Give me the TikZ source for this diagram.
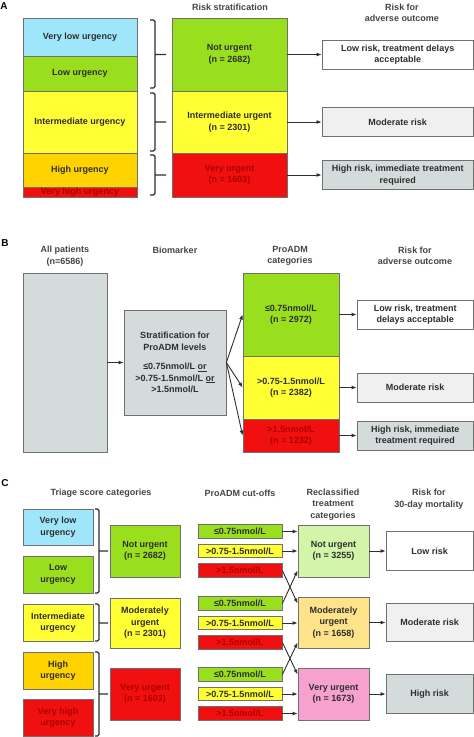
\documentclass[tikz,border=0pt]{standalone}
\usepackage{fontspec}
\setmainfont{Liberation Sans}
\usepackage{tikz}
\usetikzlibrary{arrows.meta}
\definecolor{cblue}{HTML}{9FE6FA}
\definecolor{cgreen}{HTML}{9ADF1E}
\definecolor{cyellow}{HTML}{FFFF33}
\definecolor{camber}{HTML}{FFD300}
\definecolor{cred}{HTML}{F01010}
\definecolor{redtext}{HTML}{B00000}
\definecolor{clgreen}{HTML}{D2F5AA}
\definecolor{clorange}{HTML}{FFE38A}
\definecolor{cpink}{HTML}{F7A1CF}
\definecolor{lgray}{HTML}{F0F0F0}
\definecolor{mgray}{HTML}{D3DBDB}
\definecolor{edgegray}{HTML}{707070}
\definecolor{boxtext}{HTML}{2E2E2E}
\definecolor{headgray}{HTML}{444444}
\definecolor{linegray}{HTML}{2E2E2E}

\begin{document}
\begin{tikzpicture}[x=1pt,y=-1pt,
  font=\fontsize{9}{11.5}\selectfont\bfseries,
  box/.style={draw=edgegray,line width=0.8pt,text=boxtext,align=center,inner sep=1pt},
  head/.style={text=headgray,align=center},
  panel/.style={font=\fontsize{10}{11}\selectfont\bfseries,text=black},
  acol/.style={box,minimum width=114pt},
  amid/.style={box,minimum width=115pt},
  arisk/.style={box,minimum width=151.5pt,minimum height=29pt},
  brisk/.style={box,minimum width=116.5pt,minimum height=29pt},
  bcat/.style={box,minimum width=96pt},
  ccol/.style={box,minimum width=70pt},
  cut/.style={box,minimum width=84pt,minimum height=13.5pt,inner ysep=0pt},
  recl/.style={box,minimum width=71pt},
  crisk/.style={box,minimum width=87.5pt,minimum height=38.5pt},
  arr/.style={-{Latex[length=5pt,width=4pt]},draw=linegray,line width=0.9pt},
  brk/.style={draw=linegray,line width=1.1pt,rounded corners=1.5pt}
]
\useasboundingbox (0,0) rectangle (474,737);

\node[panel] (la) at (4,6) {A};
\node[head] (ha1) at (230,7) {Risk stratification};
\node[head] (ha2) at (402,13) {Risk for\\adverse outcome};

\node[acol,fill=cblue,minimum height=38pt] (avl) at (80,37) {Very low urgency};
\node[acol,fill=cgreen,minimum height=35pt] (alo) at (80,73.5) {Low urgency};
\node[acol,fill=cyellow,minimum height=62pt] (aint) at (80,122) {Intermediate urgency};
\node[acol,fill=camber,minimum height=34pt] (ahi) at (80,170) {High urgency};
\node[acol,fill=cred,text=redtext,minimum height=10pt,inner ysep=0pt,text height=6.5pt,text depth=1.5pt] (avh) at (80,192) {Very high urgency};

\node[amid,fill=cgreen,minimum height=73pt] (anu) at (229.5,54.5) {Not urgent\\(n = 2682)};
\node[amid,fill=cyellow,minimum height=62pt] (aiu) at (229.5,122) {Intermediate urgent\\(n = 2301)};
\node[amid,fill=cred,text=redtext,minimum height=44pt] (avu) at (229.5,175) {Very urgent\\(n = 1603)};

\node[arisk,fill=white] (ar1) at (397.75,54.5) {Low risk, treatment delays\\acceptable};
\node[arisk,fill=lgray] (ar2) at (397.75,122) {Moderate risk};
\node[arisk,fill=mgray] (ar3) at (397.75,175) {High risk, immediate treatment\\required};

\draw[brk] (150,20) -- (155,20) -- (155,88) -- (150,88) (155,54.5) -- (166,54.5);
\draw[brk] (150,93) -- (155,93) -- (155,151) -- (150,151) (155,122) -- (166,122);
\draw[brk] (150,155) -- (155,155) -- (155,195) -- (150,195) (155,175) -- (166,175);

\draw[arr] (anu.east) -- (ar1.west);
\draw[arr] (aiu.east) -- (ar2.west);
\draw[arr] (avu.east) -- (ar3.west);

\node[panel] (lb) at (5,243) {B};
\node[head] (hb1) at (65,256) {All patients\\(n=6586)};
\node[head] (hb2) at (175,250) {Biomarker};
\node[head] (hb3) at (290,256) {ProADM\\categories};
\node[head] (hb4) at (415,256) {Risk for\\adverse outcome};

\node[box,fill=mgray,minimum width=84pt,minimum height=179pt] (ball) at (65,362.5) {};
\node[box,fill=mgray,minimum width=102pt,minimum height=105pt] (bstr) at (175,362.5)
  {Stratification for\\ProADM levels\\[8pt]≤0.75nmol/L \underline{or}\\>0.75-1.5nmol/L \underline{or}\\>1.5nmol/L};

\node[bcat,fill=cgreen,minimum height=83pt] (bc1) at (291,314.5) {≤0.75nmol/L\\(n = 2972)};
\node[bcat,fill=cyellow,minimum height=63pt] (bc2) at (291,387.5) {>0.75-1.5nmol/L\\(n = 2382)};
\node[bcat,fill=cred,text=redtext,minimum height=33pt] (bc3) at (291,435.5) {>1.5nmol/L\\(n = 1232)};

\node[brisk,fill=white] (br1) at (415.25,314.5) {Low risk, treatment\\delays acceptable};
\node[brisk,fill=lgray] (br2) at (415.25,387.5) {Moderate risk};
\node[brisk,fill=mgray] (br3) at (415.25,435.5) {High risk, immediate\\treatment required};

\draw[arr] (ball.east) -- (bstr.west);
\draw[arr] (bstr.east) -- (bc1.west);
\draw[arr] (bstr.east) -- (bc2.west);
\draw[arr] (bstr.east) -- (bc3.west);
\draw[arr] (bc1.east) -- (br1.west);
\draw[arr] (bc2.east) -- (br2.west);
\draw[arr] (bc3.east) -- (br3.west);

\node[panel] (lc) at (5,483) {C};
\node[head] (hc1) at (101,493) {Triage score categories};
\node[head] (hc2) at (240,493) {ProADM cut-offs};
\node[head] (hc3) at (333,504.5) {Reclassified\\treatment\\categories};
\node[head] (hc4) at (429,499) {Risk for\\30-day mortality};

\node[ccol,fill=cblue,minimum height=36pt] (cvl) at (58,527) {Very low\\urgency};
\node[ccol,fill=cgreen,minimum height=37pt] (clo) at (58,574.5) {Low\\urgency};
\node[ccol,fill=cyellow,minimum height=37pt] (cint) at (58,622.5) {Intermediate\\urgency};
\node[ccol,fill=camber,minimum height=37pt] (chi) at (58,670.5) {High\\urgency};
\node[ccol,fill=cred,text=redtext,minimum height=37pt] (cvh) at (58,717.5) {Very high\\urgency};

\draw[brk] (95,509) -- (99,509) -- (99,593) -- (95,593) (99,551) -- (108,551);
\draw[brk] (95,604) -- (99,604) -- (99,641) -- (95,641) (99,623) -- (108,623);
\draw[brk] (95,652) -- (99,652) -- (99,736) -- (95,736) (99,694) -- (108,694);

\node[ccol,fill=cgreen,minimum height=52pt] (cnu) at (145,551) {Not urgent\\(n = 2682)};
\node[ccol,fill=cyellow,minimum height=50pt] (cmu) at (145,623) {Moderately\\urgent\\(n = 2301)};
\node[ccol,fill=cred,text=redtext,minimum height=52pt] (cvu) at (145,694) {Very urgent\\(n = 1603)};

\node[cut,fill=cgreen] (g1) at (240,531.5) {≤0.75nmol/L};
\node[cut,fill=cyellow] (y1) at (240,551) {>0.75-1.5nmol/L};
\node[cut,fill=cred,text=redtext] (r1) at (240,570.5) {>1.5nmol/L};
\node[cut,fill=cgreen] (g2) at (240,603.5) {≤0.75nmol/L};
\node[cut,fill=cyellow] (y2) at (240,623) {>0.75-1.5nmol/L};
\node[cut,fill=cred,text=redtext] (r2) at (240,642.5) {>1.5nmol/L};
\node[cut,fill=cgreen] (g3) at (240,674.5) {≤0.75nmol/L};
\node[cut,fill=cyellow] (y3) at (240,694) {>0.75-1.5nmol/L};
\node[cut,fill=cred,text=redtext] (r3) at (240,713.5) {>1.5nmol/L};

\node[recl,fill=clgreen,minimum height=52pt] (rc1) at (333.5,551) {Not urgent\\(n = 3255)};
\node[recl,fill=clorange,minimum height=51pt] (rc2) at (333.5,622.5) {Moderately\\urgent\\(n = 1658)};
\node[recl,fill=cpink,minimum height=52pt] (rc3) at (333.5,694) {Very urgent\\(n = 1673)};

\node[crisk,fill=white] (rk1) at (429.75,551) {Low risk};
\node[crisk,fill=lgray] (rk2) at (429.75,622.5) {Moderate risk};
\node[crisk,fill=mgray] (rk3) at (429.75,694) {High risk};

\draw[arr] (g1.east) -- (g1.east -| rc1.west);
\draw[arr] (y1.east) -- (y1.east -| rc1.west);
\draw[arr] (r1.east) -- (rc2.west |- g2.east);
\draw[arr] (g2.east) -- (rc1.west |- r1.east);
\draw[arr] (y2.east) -- (y2.east -| rc2.west);
\draw[arr] (r2.east) -- (rc3.west |- g3.east);
\draw[arr] (g3.east) -- (rc2.west |- r2.east);
\draw[arr] (y3.east) -- (y3.east -| rc3.west);
\draw[arr] (r3.east) -- (r3.east -| rc3.west);

\draw[arr] (rc1.east) -- (rk1.west);
\draw[arr] (rc2.east) -- (rk2.west);
\draw[arr] (rc3.east) -- (rk3.west);
\end{tikzpicture}
\end{document}
